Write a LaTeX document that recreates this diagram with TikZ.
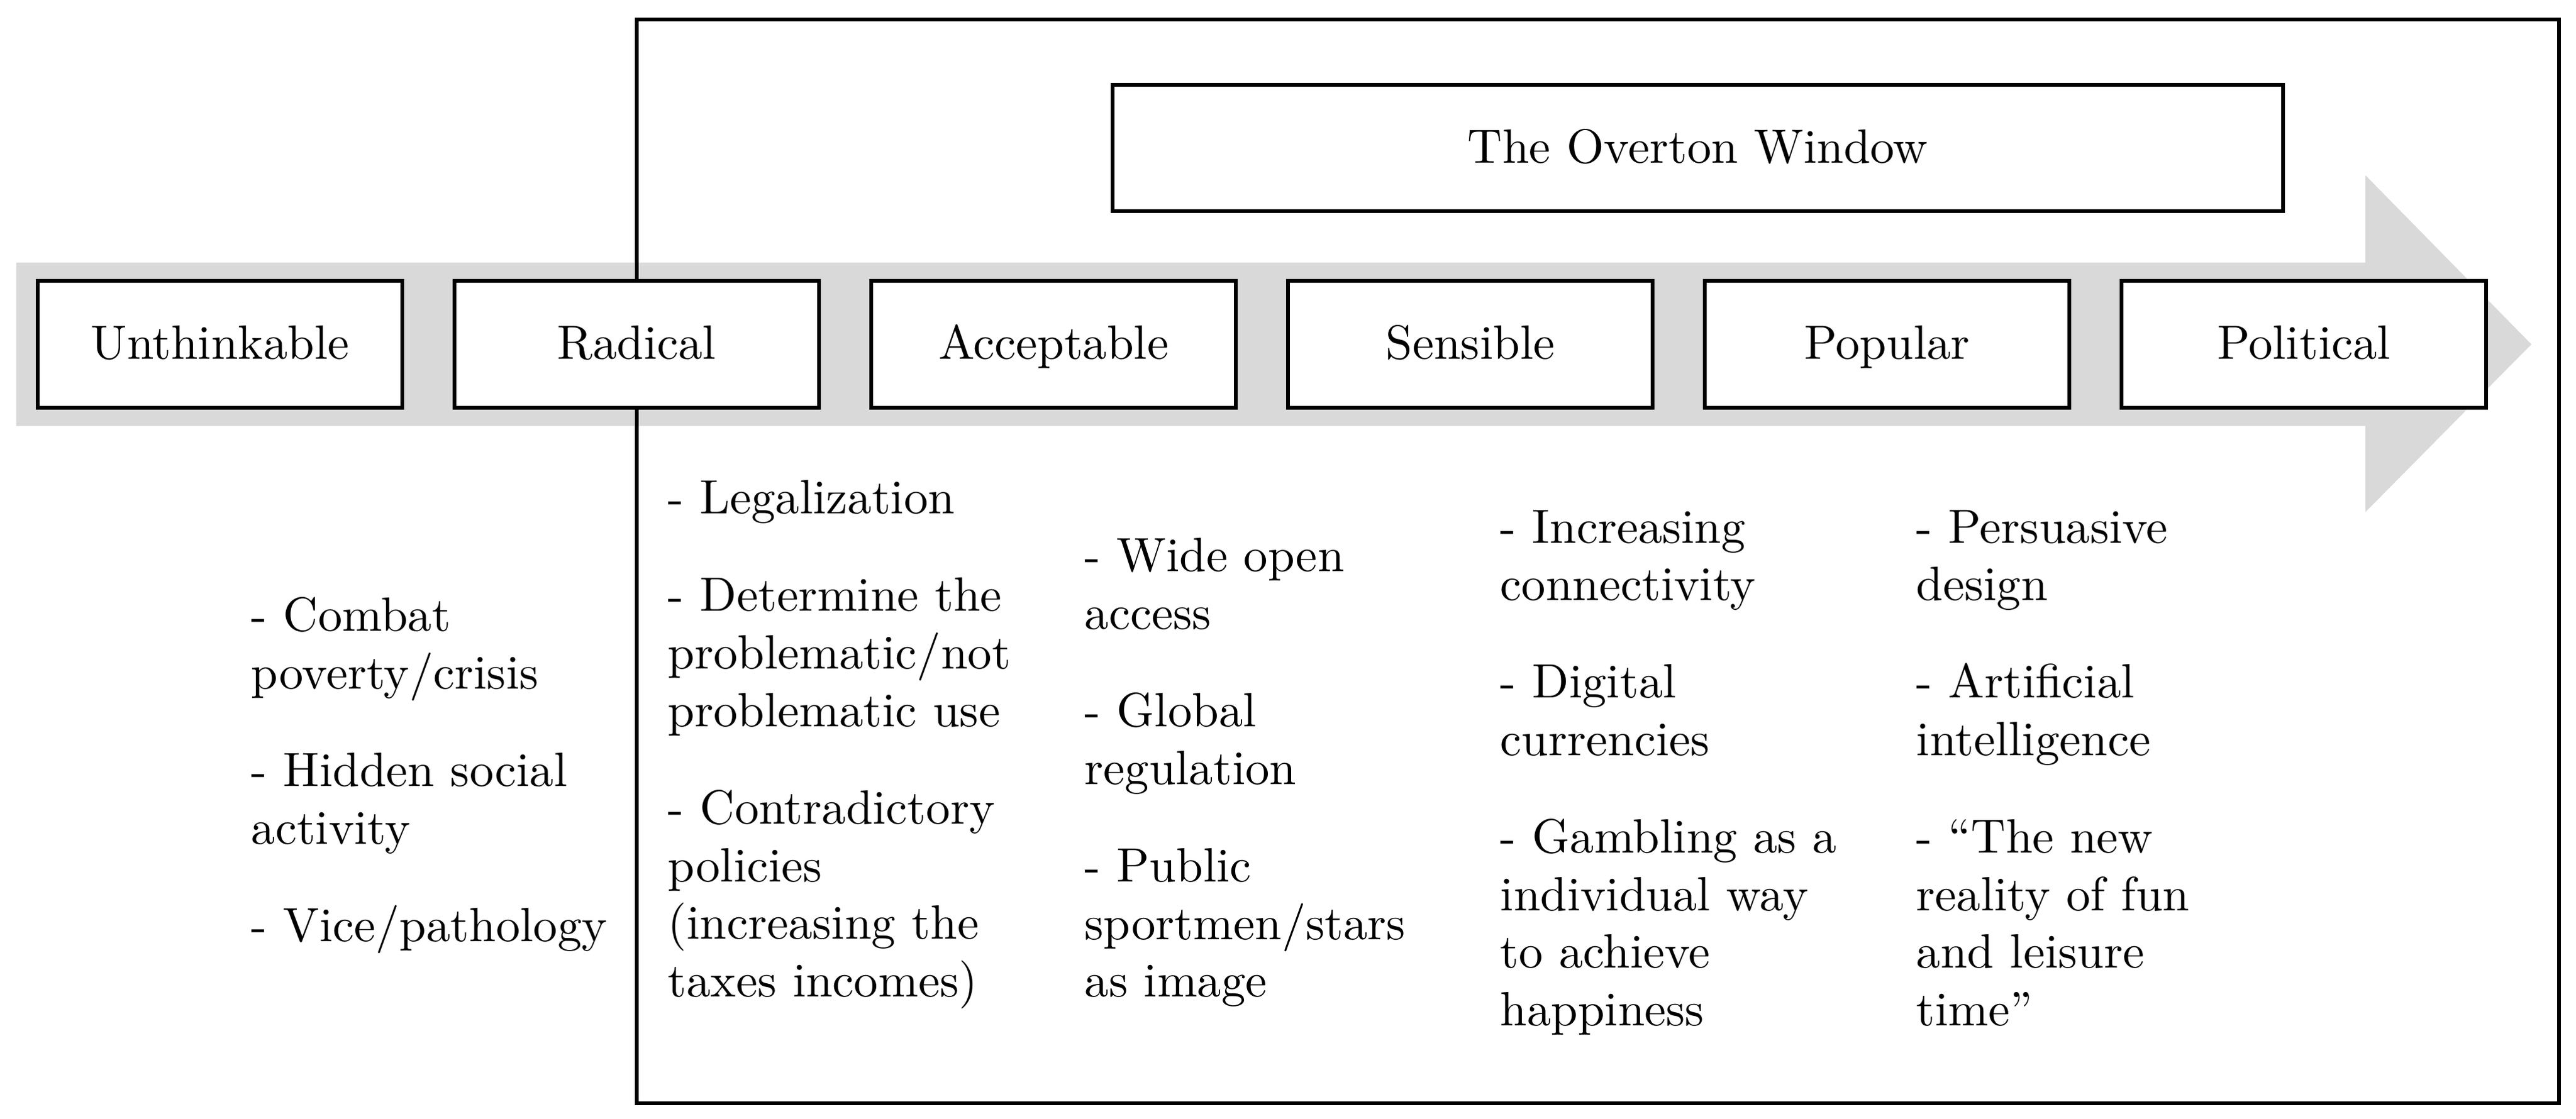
\documentclass[tikz,border=0pt]{standalone}
\usepackage{fontspec}
\setmainfont{lmroman10-regular.otf}

\definecolor{pfeilgrau}{RGB}{217,217,217}

\begin{document}
\begin{tikzpicture}[
  font=\fontsize{21.8}{26.1}\selectfont,
  stufe/.style={draw, line width=1.6pt, fill=white, minimum width=5.80cm, minimum height=2.02cm,
    inner sep=0pt, text height=15pt, text depth=1.5pt},
  liste/.style={align=left, anchor=north west, inner sep=0pt}]

\useasboundingbox (0,0) rectangle (40.98,17.81);

% Definition der Koordinaten für die Stufen
\def \stY {12.33}
\def \unthX {3.50}
\def \radX {10.13}
\def \accX {16.76}
\def \sensX {23.39}
\def \popX {30.02}
\def \polX {36.65}

% Setzen der Koordinaten
\coordinate (unth) at (\unthX,\stY);
\coordinate (rad) at (\radX,\stY);
\coordinate (acc) at (\accX,\stY);
\coordinate (sens) at (\sensX,\stY);
\coordinate (pop) at (\popX,\stY);
\coordinate (pol) at (\polX,\stY);
\coordinate (win) at (27.01,15.455);

% grauer Pfeil im Hintergrund
\fill[pfeilgrau] (0.26,13.63) -- (37.63,13.63) -- (37.63,15.02) -- (40.27,12.33)
  -- (37.63,9.66) -- (37.63,11.03) -- (0.26,11.03) -- cycle;

% Rahmen des Fensters
\draw[line width=1.6pt] (10.13,0.25) rectangle (40.71,17.50);
\node[stufe, minimum width=18.62cm, minimum height=2.01cm] at (win) (Window) {The Overton Window};

% Stufen zeichnen
\node[stufe] at (unth) (Unthinkable) {Unthinkable};
\node[stufe] at (rad) (Radical) {Radical};
\node[stufe] at (acc) (Acceptable) {Acceptable};
\node[stufe] at (sens) (Sensible) {Sensible};
\node[stufe] at (pop) (Popular) {Popular};
\node[stufe] at (pol) (Political) {Political};

% Stichpunkte unter den Stufen
\node[liste] at (3.99,8.31) (unthList) {- Combat\\poverty/crisis\\[18pt]- Hidden social\\activity\\[18pt]- Vice/pathology};
\node[liste] at (10.62,10.17) (radList) {- Legalization\\[18pt]- Determine the\\problematic/not\\problematic use\\[18pt]- Contradictory\\policies\\(increasing the\\taxes incomes)};
\node[liste] at (17.25,9.25) (accList) {- Wide open\\access\\[18pt]- Global\\regulation\\[18pt]- Public\\sportmen/stars\\as image};
\node[liste] at (23.86,9.70) (sensList) {- Increasing\\connectivity\\[18pt]- Digital\\currencies\\[18pt]- Gambling as a\\individual way\\to achieve\\happiness};
\node[liste] at (30.48,9.70) (popList) {- Persuasive\\design\\[18pt]- Artificial\\intelligence\\[18pt]- “The new\\reality of fun\\and leisure\\time”};

\end{tikzpicture}
\end{document}
